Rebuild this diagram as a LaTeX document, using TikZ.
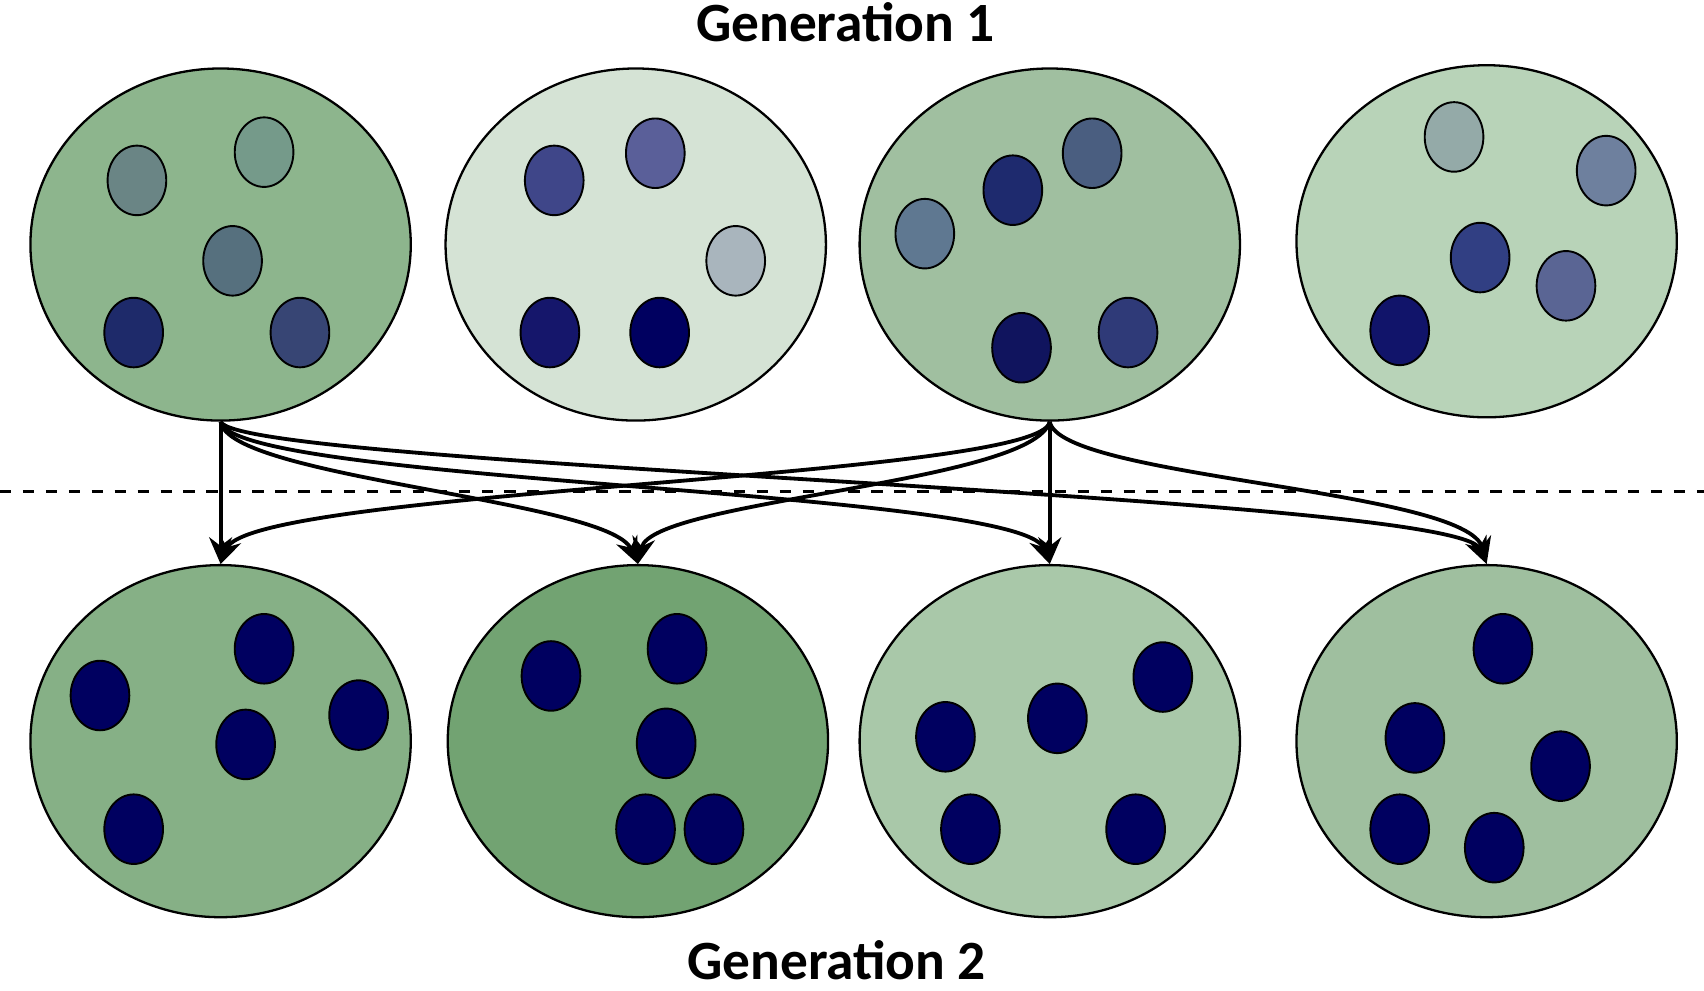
\documentclass[tikz,border=0pt]{standalone}
\usepackage{fontspec}
\setmainfont{Carlito}
\usetikzlibrary{arrows.meta}
\begin{document}
\begin{tikzpicture}[x=0.01cm,y=-0.01cm,
 big/.style={draw=black,line width=0.6pt},
 dot/.style={draw=black,line width=0.5pt},
 arr/.style={-{Stealth[length=7pt,width=6pt]},line width=1pt},
 lab/.style={font=\bfseries\fontsize{14.5}{16}\selectfont}]
\useasboundingbox (0,0) rectangle (1568,911);
\definecolor{dk}{HTML}{000060}
% big ellipses
\foreach \x/\y/\c/\n in {203/225/8DB58D/a1,585/225/D5E3D5/a2,966/225/A0BFA0/a3,1368/222/B8D3B8/a4,
 203/682/86B086/b1,587/682/72A372/b2,966/682/A9C8A9/b3,1368/682/9FBF9F/b4}{
 \definecolor{cc}{HTML}{\c}
 \path[big,fill=cc] (\x,\y) ellipse [x radius=175,y radius=162];
}
% small dots top
\foreach \x/\y/\c in {126/166/6A8585,243/140/759A8A,214/240/56707E,123/306/1E2A6A,276/306/374574,
 510/166/3F4689,603/141/5A5F99,677/240/A9B5BD,506/306/15166B,607/306/000060,
 851/215/5F7891,932/175/1E2A6E,1005/141/4A5E80,940/320/10145E,1038/306/2F3A78,
 1338/126/94AAA8,1478/157/6E809E,1362/237/313F83,1441/263/5A6594,1288/304/11146A}{
 \definecolor{cc}{HTML}{\c}
 \path[dot,fill=cc] (\x,\y) ellipse [x radius=27,y radius=32];
}
% small dots bottom
\foreach \x/\y in {92/640,243/597,226/685,330/658,123/763,
 507/622,623/597,613/684,594/763,657/763,
 870/678,973/661,1070/623,893/763,1045/763,
 1383/597,1302/679,1436/705,1288/763,1375/780}{
 \path[dot,fill=dk] (\x,\y) ellipse [x radius=27,y radius=32];
}
\coordinate (s1) at (203,388);
\coordinate (s3) at (966,388);
\coordinate (t1) at (203,519);
\coordinate (t2) at (587,519);
\coordinate (t3) at (966,519);
\coordinate (t4) at (1368,519);
\draw[dashed,line width=0.8pt] (0,452) -- (1568,452);
\draw[arr] (s1) -- (t1);
\draw[arr] (s3) -- (t3);
\draw[arr] (s1) .. controls (210,440) and (560,460) .. (t2);
\draw[arr] (s1) .. controls (215,445) and (940,450) .. (t3);
\draw[arr] (s1) .. controls (220,430) and (1340,455) .. (t4);
\draw[arr] (s3) .. controls (960,440) and (230,450) .. (t1);
\draw[arr] (s3) .. controls (950,445) and (600,460) .. (t2);
\draw[arr] (s3) .. controls (975,440) and (1350,450) .. (t4);
\node[lab] (g1) at (778,20) {Generation 1};
\node[lab] (g2) at (770,884) {Generation 2};
\end{tikzpicture}
\end{document}
